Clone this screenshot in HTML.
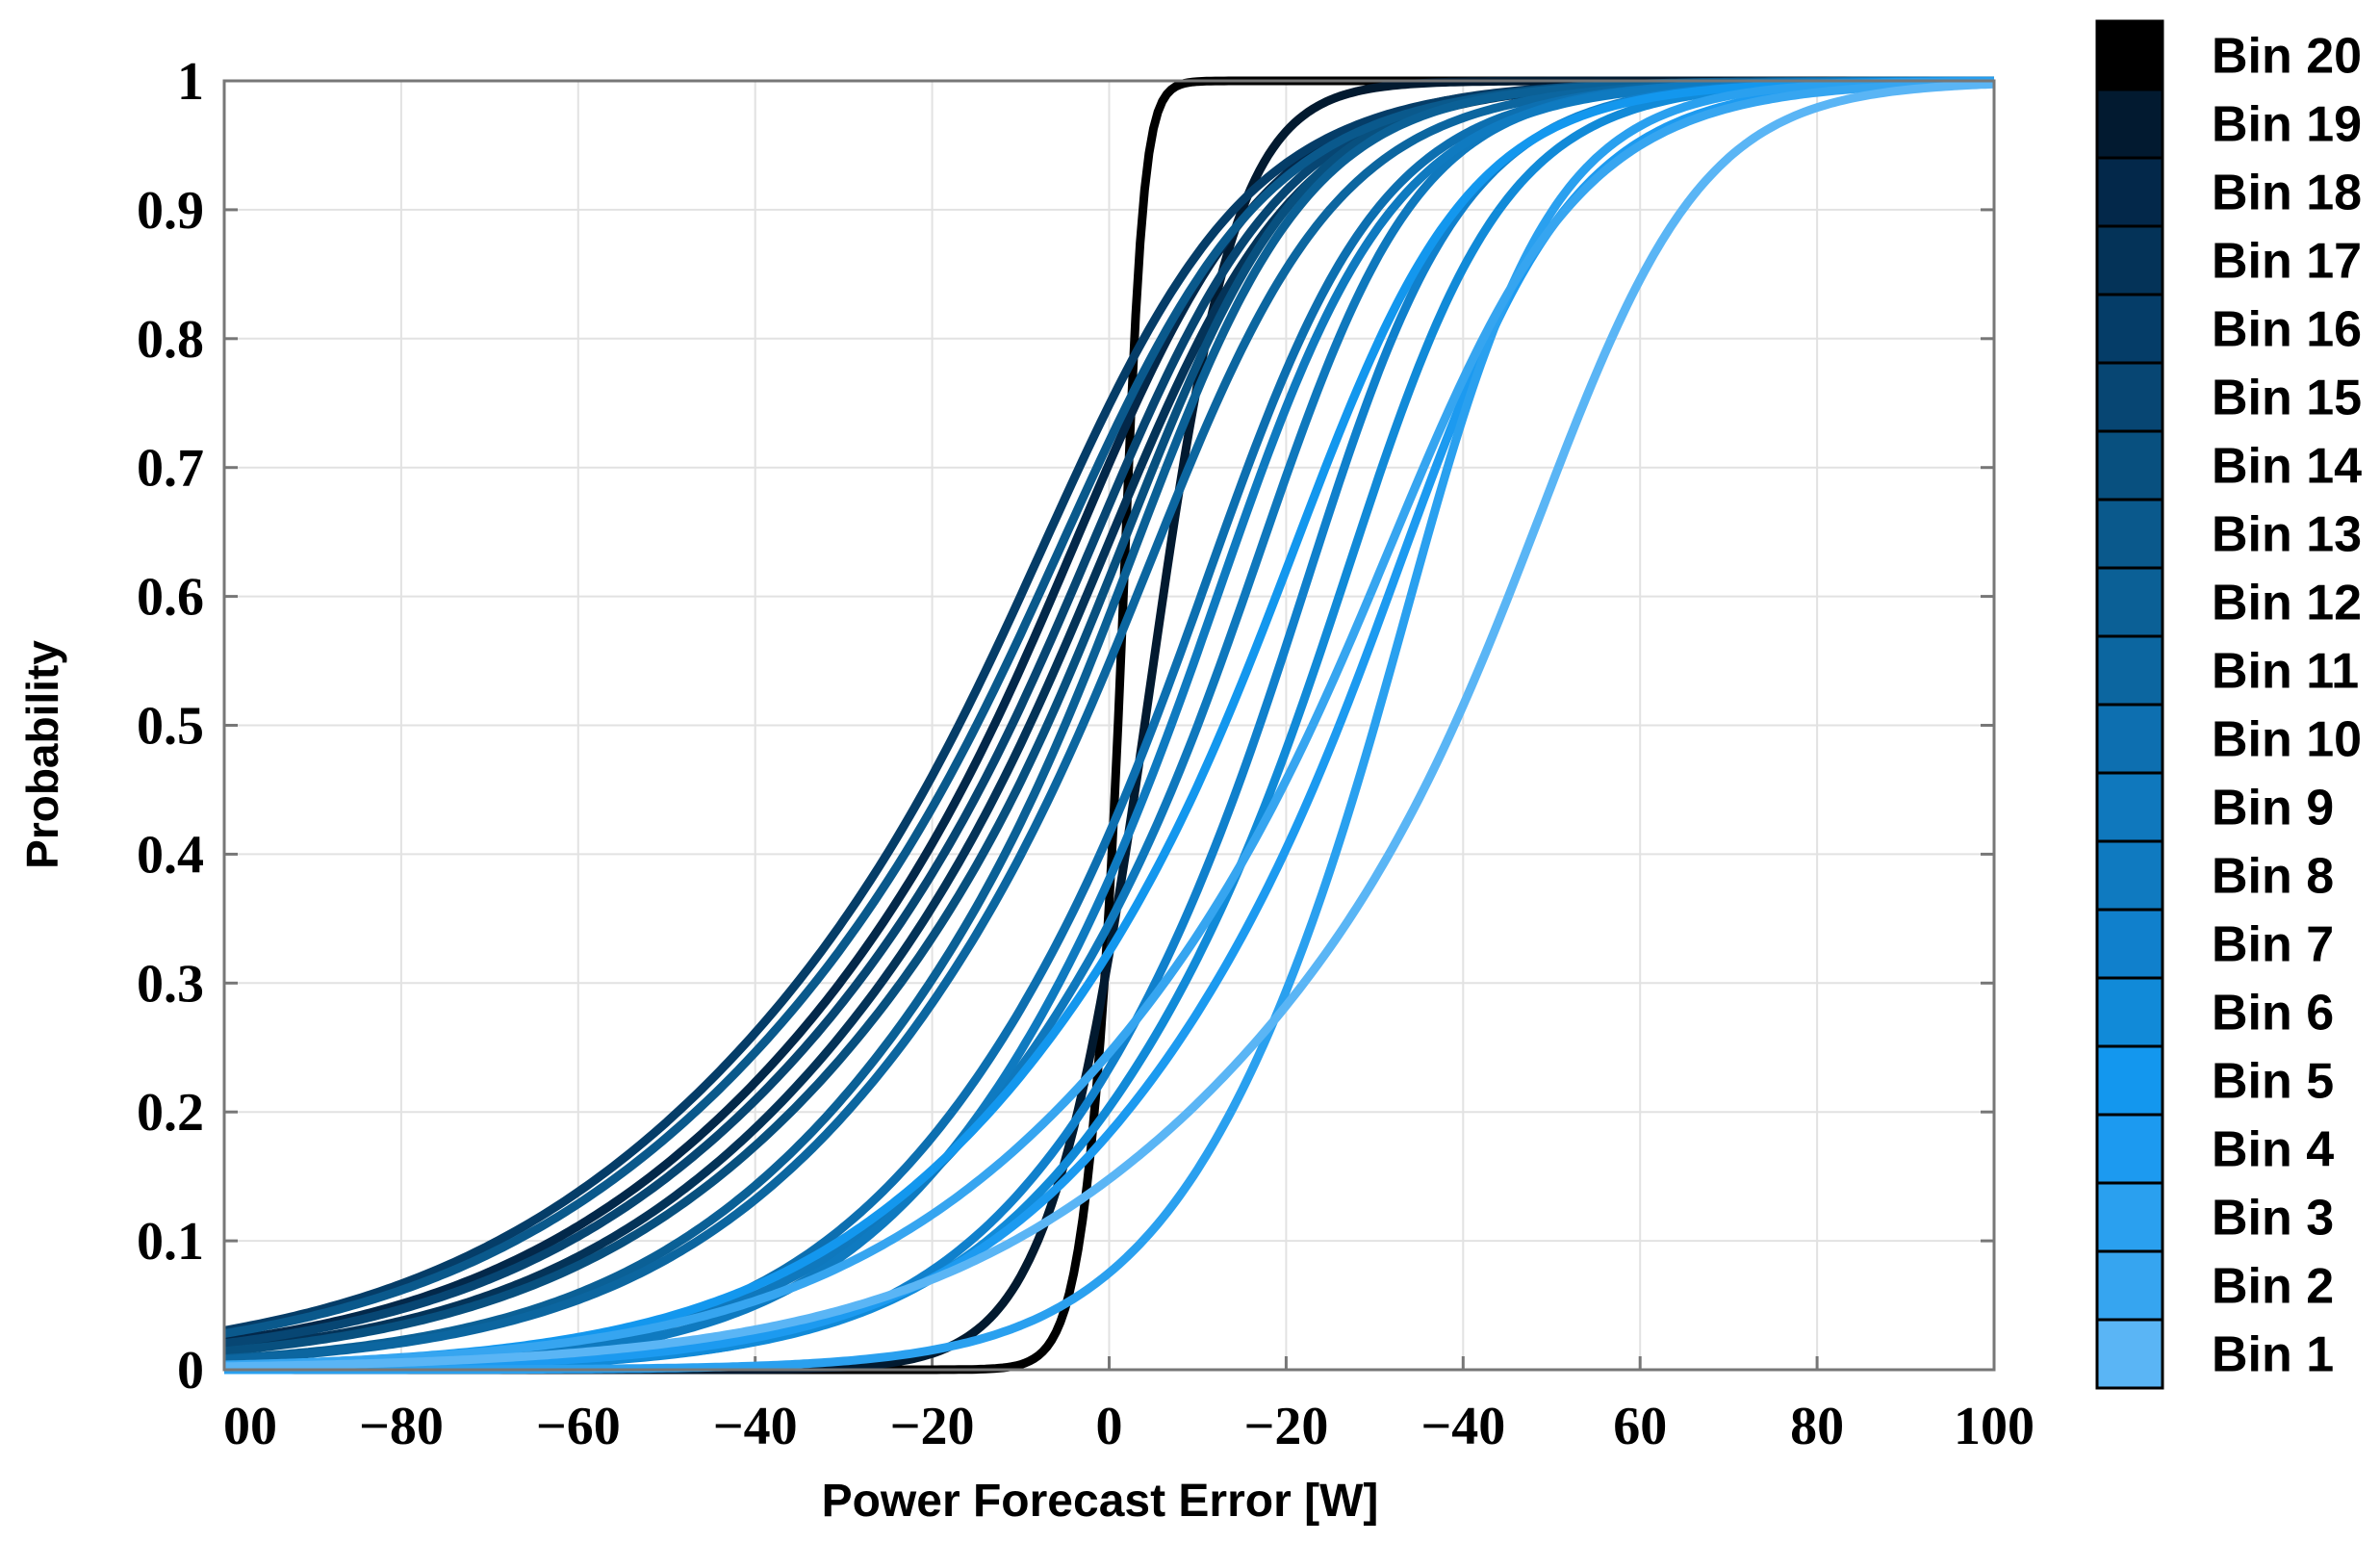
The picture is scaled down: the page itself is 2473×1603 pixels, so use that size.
<!DOCTYPE html>
<html><head><meta charset="utf-8"><style>
html,body{margin:0;padding:0;background:#fff;width:2473px;height:1603px;overflow:hidden}
svg{display:block}
</style></head><body>
<svg id="s" width="2473" height="1603" xmlns="http://www.w3.org/2000/svg">
<rect width="2473" height="1603" fill="#fff"/>
<g id="grid"></g>
<g id="curves" fill="none" stroke-width="9" stroke-linejoin="round"></g>
<rect x="233" y="84" width="1839" height="1339" fill="none" stroke="#777" stroke-width="3"/>
<g id="ticks" font-family="Liberation Serif, serif" font-weight="bold" font-size="56" fill="#000"></g>
<text x="1143" y="1575" text-anchor="middle" font-family="Liberation Sans, sans-serif" font-weight="bold" font-size="48">Power Forecast Error [W]</text>
<text transform="translate(60,784) rotate(-90)" text-anchor="middle" font-family="Liberation Sans, sans-serif" font-weight="bold" font-size="46">Probability</text>
<g id="leg"></g>
</svg>
<script>
(function(){
var NS="http://www.w3.org/2000/svg";
function el(p,t,a,txt){var e=document.createElementNS(NS,t);for(var k in a)e.setAttribute(k,a[k]);if(txt!=null)e.textContent=txt;p.appendChild(e);return e;}
var L=233,R=2072,T=84,B=1423;
function X(v){return L+(v+100)/200*(R-L);}
function Y(p){return B-(B-T)*p;}
var g=document.getElementById('grid'),tk=document.getElementById('ticks');
var xl=["00","\u221280","\u221260","\u221240","\u221220","0","\u221220","\u221240","60","80","100"];
for(var i=0;i<=10;i++){
 var x=X(-100+20*i);
 el(g,'line',{x1:x,y1:T,x2:x,y2:B,stroke:'#e2e2e2','stroke-width':2});
 el(g,'line',{x1:x,y1:B,x2:x,y2:B-14,stroke:'#777','stroke-width':3});
 var tx=i==0?260:x;
 el(tk,'text',{x:tx,y:1500,'text-anchor':'middle'},xl[i]);
 var y=Y(i/10);
 el(g,'line',{x1:L,y1:y,x2:R,y2:y,stroke:'#e2e2e2','stroke-width':2});
 el(g,'line',{x1:L,y1:y,x2:L+14,y2:y,stroke:'#777','stroke-width':3});
 el(g,'line',{x1:R,y1:y,x2:R-14,y2:y,stroke:'#777','stroke-width':3});
 el(tk,'text',{x:212,y:y+19,'text-anchor':'end'},i==0?"0":i==10?"1":(i/10).toFixed(1));
}
var cols=["#5ab5f5","#36a5f0","#2aa0ef","#1c9af0","#1397ee","#118ad8","#1080cc","#0f7ac0","#0f78bd","#0d6fb0","#0c66a0","#0b6096","#0a598c","#08507f","#074673","#053d68","#043358","#03284a","#021a30","#000000"];
var par={20:[1,2,1.2],19:[4,5.5,5],18:[-13,23,12],17:[-9,22,12],16:[-17,24,13],15:[-11,23,12],14:[-7,22,11],13:[-15,24,13],12:[-5,20,11],11:[-3,20,12],10:[5,17,11],9:[10,18,10],8:[7,16,11],7:[17,15,10],6:[21,16,10],5:[13,20,11],4:[26,18,11],3:[30,12,9],2:[23,22,12],1:[39,23,10]};
var cg=document.getElementById('curves');
for(var b=20;b>=1;b--){
 var q=par[b],d="";
 for(var v=-100;v<=100.001;v+=0.5){
  var s=q[1]+(q[2]-q[1])/(1+Math.exp(-(v-q[0])/(0.6*q[1])));
  var p=1/(1+Math.exp(-(v-q[0])/s));
  d+=(v==-100?"M":"L")+X(v).toFixed(1)+","+Y(p).toFixed(1);
 }
 el(cg,'path',{d:d,stroke:cols[b-1]});
}
var lg=document.getElementById('leg');
var y0=22,h=71;
for(var k=0;k<20;k++){
 var bin=20-k;
 el(lg,'rect',{x:2179,y:y0+k*h,width:68,height:h,fill:cols[bin-1],stroke:'#000','stroke-width':3});
 el(lg,'text',{x:2298,y:y0+k*h+h/2+18,'font-family':'Liberation Sans, sans-serif','font-weight':'bold','font-size':52},"Bin "+bin);
}
})();
</script>
</body></html>
